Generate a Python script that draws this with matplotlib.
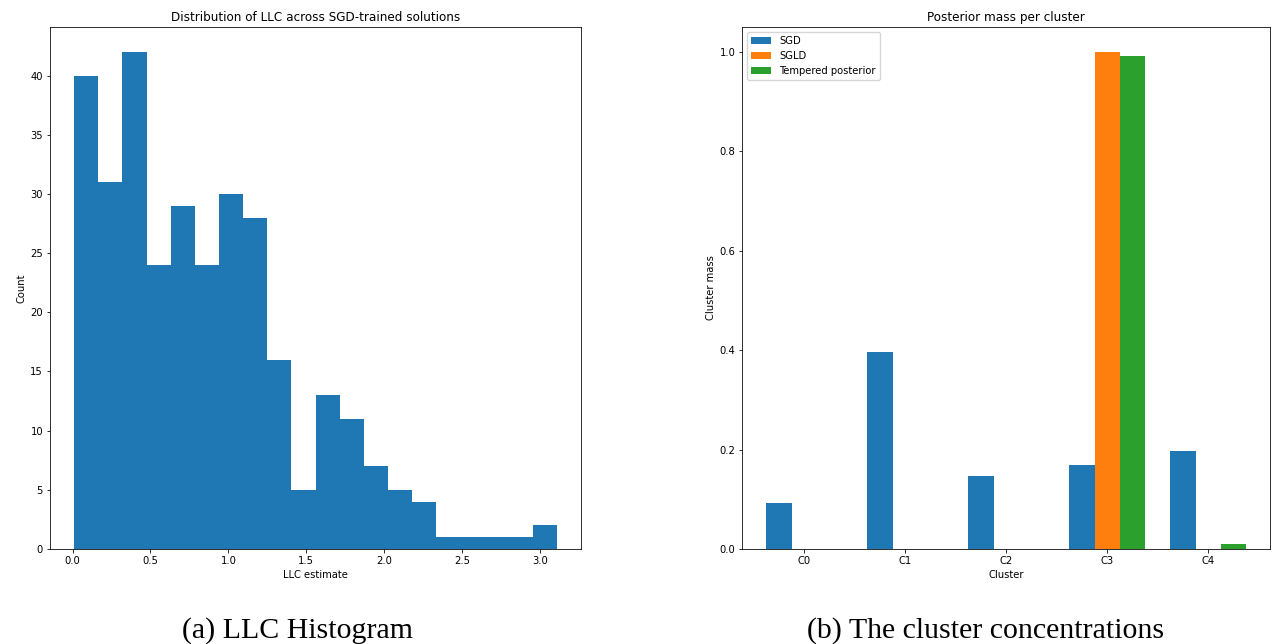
import numpy as np
import matplotlib
matplotlib.use("Agg")
import matplotlib.pyplot as plt

# --- data ---
# histogram of LLC estimates (20 equal bins)
llc_min, llc_max = 0.01, 3.11
llc_counts = [40, 31, 42, 24, 29, 24, 30, 28, 16, 5,
              13, 11, 7, 5, 4, 1, 1, 1, 1, 2]

# cluster masses
clusters = ["C0", "C1", "C2", "C3", "C4"]
mass_sgd = [0.092, 0.397, 0.146, 0.169, 0.197]
mass_sgld = [0.0, 0.0, 0.0, 1.0, 0.0]
mass_tempered = [0.0, 0.0, 0.0, 0.991, 0.010]

S = 0.72  # the panels look like default-size figures scaled down
plt.rcParams.update({
    "font.family": "DejaVu Sans",
    "font.size": 10 * S,
    "axes.titlesize": 12 * S,
    "axes.labelsize": 10 * S,
    "xtick.labelsize": 10 * S,
    "ytick.labelsize": 10 * S,
    "legend.fontsize": 10 * S,
    "axes.linewidth": 0.8 * S,
    "xtick.major.width": 0.8 * S,
    "ytick.major.width": 0.8 * S,
    "xtick.major.size": 3.5 * S,
    "ytick.major.size": 3.5 * S,
    "xtick.major.pad": 3.5 * S,
    "ytick.major.pad": 3.5 * S,
    "axes.titlepad": 6 * S,
    "axes.labelpad": 4 * S,
})

fig = plt.figure(figsize=(12.86, 6.44), dpi=100)
ax1 = fig.add_axes([0.0389, 0.1475, 0.4129, 0.8105])
ax2 = fig.add_axes([0.5773, 0.1475, 0.4103, 0.8105])

# (a) histogram
edges = np.linspace(llc_min, llc_max, len(llc_counts) + 1)
ax1.bar(edges[:-1], llc_counts, width=np.diff(edges), align="edge",
        color="#1f77b4", linewidth=0)
ax1.set_title("Distribution of LLC across SGD-trained solutions")
ax1.set_xlabel("LLC estimate")
ax1.set_ylabel("Count")

# (b) grouped bars
x = np.arange(len(clusters))
w = 0.25
ax2.bar(x - w, mass_sgd, w, label="SGD", color="#1f77b4")
ax2.bar(x, mass_sgld, w, label="SGLD", color="#ff7f0e")
ax2.bar(x + w, mass_tempered, w, label="Tempered posterior", color="#2ca02c")
ax2.set_xticks(x)
ax2.set_xticklabels(clusters)
ax2.set_title("Posterior mass per cluster")
ax2.set_xlabel("Cluster")
ax2.set_ylabel("Cluster mass")
ax2.legend(loc="upper left")

# captions under the panels
fig.text(0.2317, 0.0105, "(a) LLC Histogram", ha="center", va="baseline",
         family="Liberation Serif", fontsize=21.5)
fig.text(0.766, 0.0105, "(b) The cluster concentrations", ha="center",
         va="baseline", family="Liberation Serif", fontsize=21.5)

fig.savefig("out.png", dpi=100)
